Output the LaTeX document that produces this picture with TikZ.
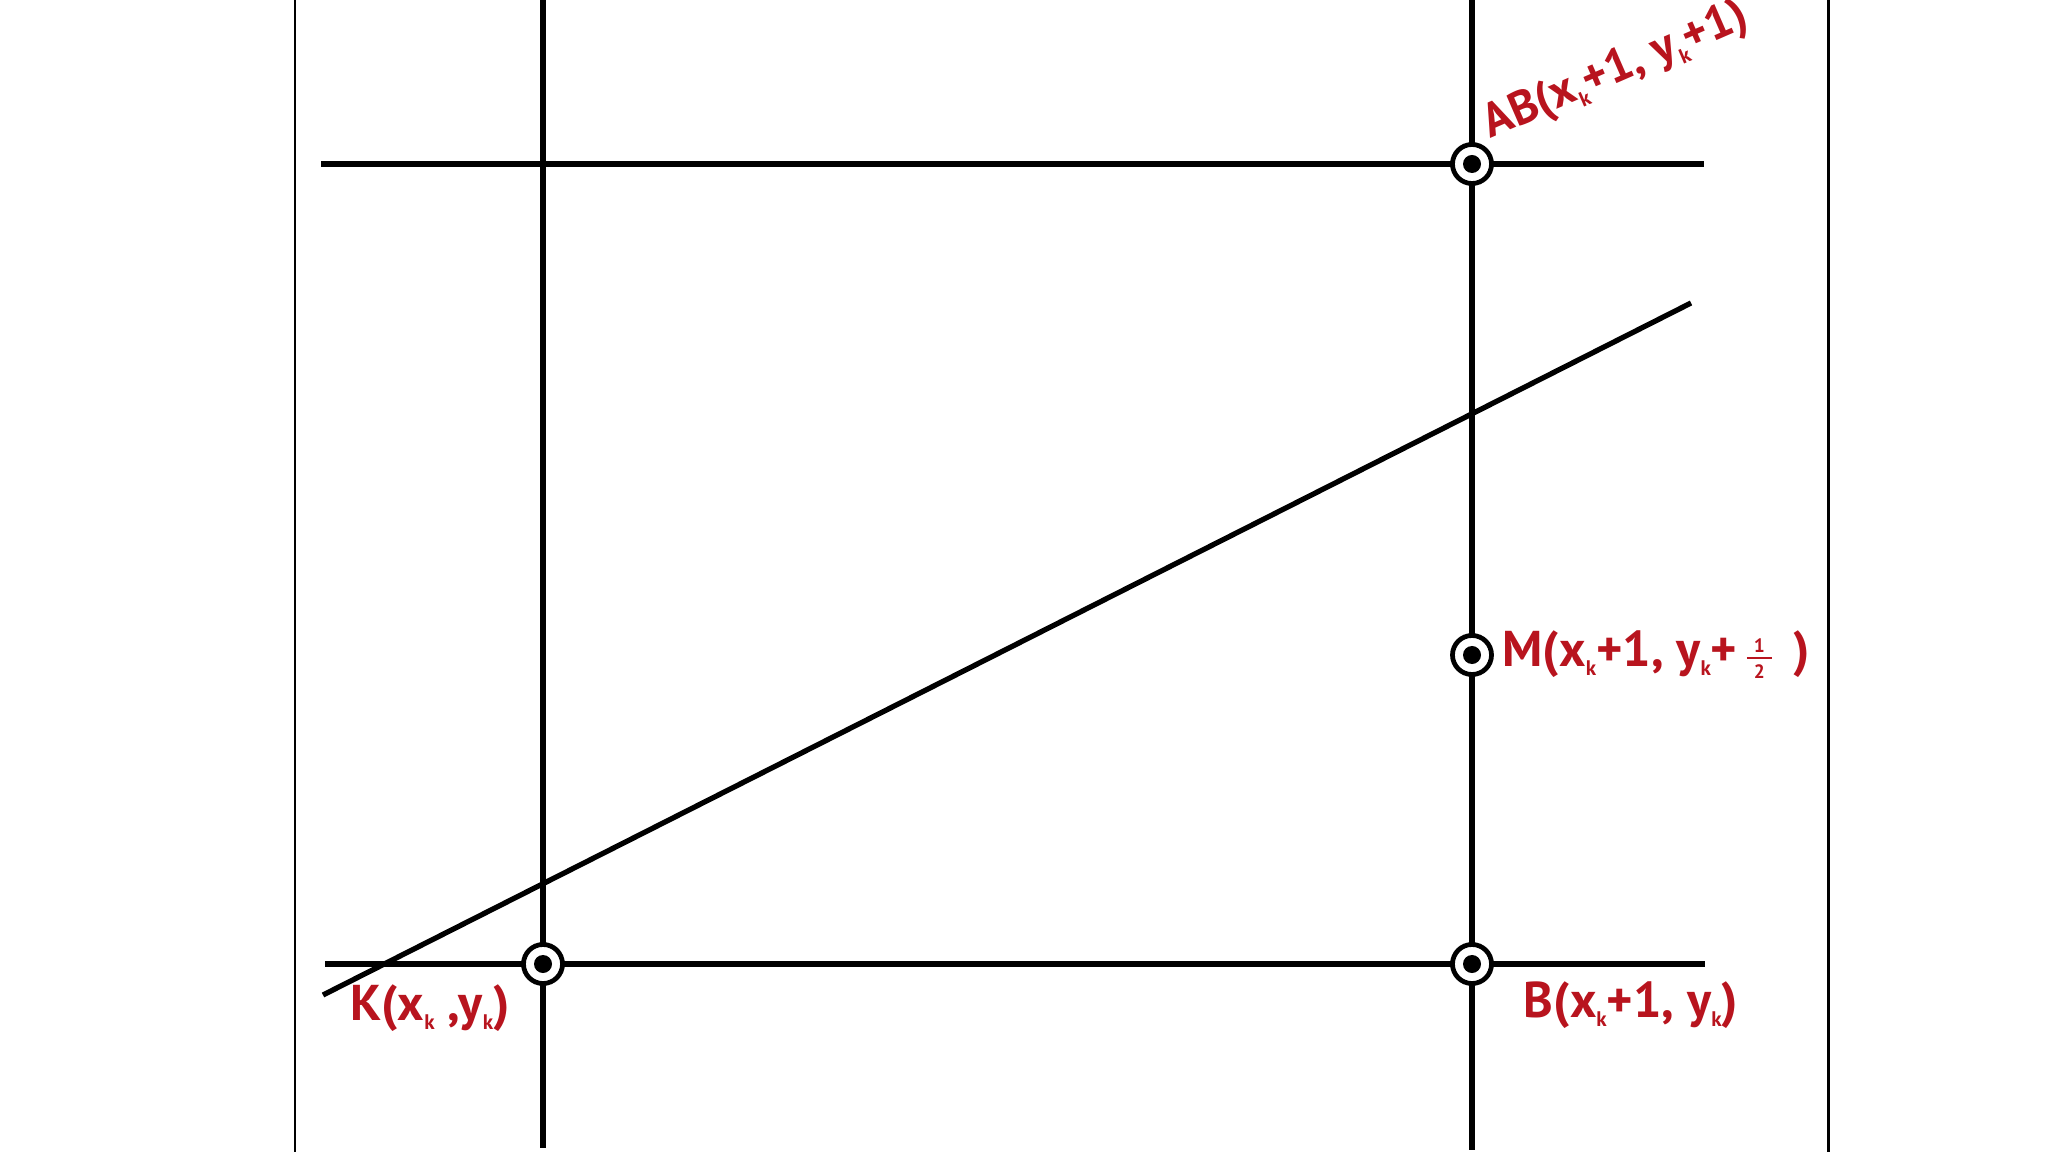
\documentclass[tikz,border=0pt]{standalone}
\usepackage{fontspec}
\setmainfont{PT Sans}
\definecolor{lblred}{RGB}{184,20,30}
\newcommand{\subk}{\raisebox{-0.35ex}{\fontsize{6}{6}\selectfont k}}
\newcommand{\fracdigit}[1]{\hbox to 7pt{\hss\fontsize{5.5}{5.5}\selectfont #1\hss}}
\newcommand{\halfstack}{\hspace{1.5pt}${\scriptstyle\frac{\fracdigit{1}}{\fracdigit{2}}}$\hspace{5pt}}
\begin{document}
\begin{tikzpicture}[x=0.01cm,y=-0.01cm,
  gridline/.style={line width=1.5pt,black},
  border/.style={line width=0.85pt,black},
  pt/.style={circle,draw=black,fill=white,line width=1.35pt,minimum size=0.39cm,inner sep=0pt,
    path picture={\fill[black] (path picture bounding box.center) circle (0.09cm);}},
  lbl/.style={text=lblred,font=\fontsize{14.3}{16}\selectfont\bfseries,inner sep=0pt}]
\useasboundingbox (0,0) rectangle (2048,1152);
% border
\coordinate (bl1) at (295,0); \coordinate (bl2) at (295,1152);
\coordinate (br1) at (1828,0); \coordinate (br2) at (1828,1152);
\draw[border] (bl1) -- (bl2);
\draw[border] (br1) -- (br2);
% grid line ends
\coordinate (v1t) at (543,0); \coordinate (v1b) at (543,1148);
\coordinate (v2t) at (1472,0); \coordinate (v2b) at (1472,1150);
\coordinate (h1l) at (321,164); \coordinate (h1r) at (1704,164);
\coordinate (h2l) at (325,964); \coordinate (h2r) at (1705,964);
\coordinate (dl) at (323,995); \coordinate (dr) at (1691,303);
\draw[gridline] (v1t) -- (v1b);
\draw[gridline] (v2t) -- (v2b);
\draw[gridline] (h1l) -- (h1r);
\draw[gridline] (h2l) -- (h2r);
\draw[gridline] (dl) -- (dr);
% points
\node[pt] (K) at (543,964) {};
\node[pt] (B) at (1472,964) {};
\node[pt] (M) at (1472,655) {};
\node[pt] (AB) at (1472,164) {};
% labels
\node[lbl] (Klbl) at (430,1008) {K(x\subk\ ,y\subk)};
\node[lbl] (Blbl) at (1631,1005) {B(x\subk+1, y\subk)};
\node[lbl,anchor=west] (Mlbl) at (1502,655) {M(x\subk+1, y\subk+\halfstack)};
\node[lbl,anchor=base west,rotate=23.5,font=\fontsize{13.5}{15}\selectfont\bfseries] (ABlbl) at (1490,139) {AB(x\subk+1, y\subk+1)};
\end{tikzpicture}
\end{document}
